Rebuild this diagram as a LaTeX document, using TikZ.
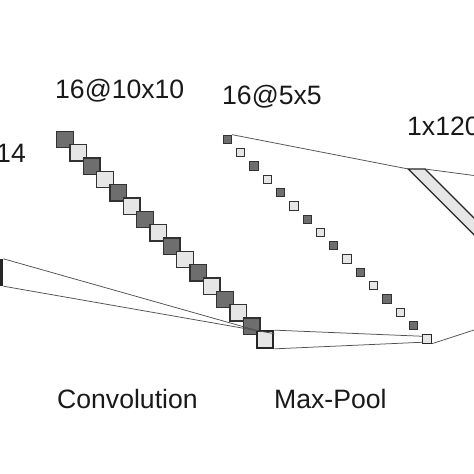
\documentclass[tikz,border=0pt]{standalone}
\usepackage{fontspec}
\setmainfont{Liberation Sans}
\usetikzlibrary{positioning,calc}
\definecolor{mapDark}{RGB}{110,110,110}
\definecolor{mapLight}{RGB}{230,230,230}
\definecolor{edgeGray}{RGB}{50,50,50}
\definecolor{wireGray}{RGB}{80,80,80}
\tikzset{
  convmap/.style={draw=edgeGray, line width=1.2pt, minimum size=16.5pt, inner sep=0pt},
  poolmap/.style={draw=edgeGray, line width=1pt, minimum size=8.3pt, inner sep=0pt},
  lbl/.style={font=\fontsize{26.6}{31}\selectfont, inner sep=0pt, text=black!90},
  wire/.style={draw=wireGray, line width=0.75pt},
  fcbar/.style={draw=black!85, line width=1.3pt, fill=mapLight}
}

\begin{document}
\begin{tikzpicture}[x=1pt, y=-1pt]
  \useasboundingbox (0,0) rectangle (474,474);
  \clip (0,0) rectangle (474,474);

  % feature maps
  \foreach \i in {1,...,15} {
    \ifodd\i \def\tone{mapDark}\else \def\tone{mapLight}\fi
    \node[convmap, fill=\tone] (c\i) at ({65+13.333*(\i-1)}, {139.5+13.333*(\i-1)}) {};
  }
  \node[convmap, fill=mapLight, draw=black!85, line width=2.2pt] (c16) at (265,339.5) {};
  \foreach \i in {1,...,15} {
    \ifodd\i \def\tone{mapDark}\else \def\tone{mapLight}\fi
    \node[poolmap, fill=\tone] (p\i) at ({227.3+13.31*(\i-1)}, {139.3+13.31*(\i-1)}) {};
  }
  \node[poolmap, fill=mapLight, draw=black!85, line width=1.2pt] (p16) at (427,339) {};
  \node[fill=black!85, minimum width=3pt, minimum height=27pt, inner sep=0pt, anchor=west] (bar) at (0,272.5) {};

  % fully connected slab
  \coordinate (fcl) at (408.3,169);
  \coordinate (fcr) at (425,169);
  \coordinate (fcout) at (474,175.5);
  \coordinate (fcdown) at (474,330);
  \draw[fcbar] (fcl) -- (fcr) -- ($(fcr)+(100,100)$) -- ($(fcl)+(100,100)$) -- cycle;

  \draw[wire] (bar.north east) -- (c16.north west);
  \draw[wire] (bar.south east) -- ([yshift=-3.5pt]c16.north east);
  \draw[wire] (c16.north east) -- ([yshift=-2pt]p16.north west);
  \draw[wire] (c16.south east) -- ([yshift=1.5pt]p16.south west);
  \draw[wire] (p1.north east) -- (fcl);
  \draw[wire] (fcr) -- (fcout);
  \draw[wire] (p16.south east) -- (fcdown);

  \node[lbl, anchor=base east] (insize) at (26,162) {14};
  \node[lbl, anchor=base west] (convsize) at (55,98) {16@10x10};
  \node[lbl, anchor=base west] (poolsize) at (222,104) {16@5x5};
  \node[lbl, anchor=base west] (fcsize) at (407,135) {1x120};
  \node[lbl, anchor=base west] (convname) at (57,408) {Convolution};
  \node[lbl, anchor=base west] (poolname) at (274,408) {Max-Pool};
\end{tikzpicture}
\end{document}
